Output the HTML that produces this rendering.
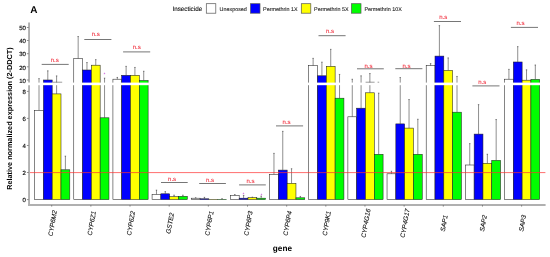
<!DOCTYPE html>
<html lang="en"><head><meta charset="utf-8"><title>Figure A</title>
<style>html,body{margin:0;padding:0;background:#fff}body{width:550px;height:257px;overflow:hidden}svg{display:block;filter:blur(0.3px)}text{font-family:"Liberation Sans",Arial,sans-serif;text-rendering:geometricPrecision}</style></head><body>
<svg width="550" height="257" viewBox="0 0 550 257">
<rect width="550" height="257" fill="#fff"/>
<g stroke="#222" stroke-width="0.55">
<rect x="34.60" y="110.40" width="8.8" height="89.20" fill="#ffffff"/>
<rect x="43.40" y="80.00" width="8.8" height="119.60" fill="#0000ff"/>
<rect x="52.20" y="93.90" width="8.8" height="105.70" fill="#ffff00"/>
<rect x="61.00" y="169.80" width="8.8" height="29.80" fill="#00ff00"/>
<rect x="73.76" y="58.50" width="8.8" height="141.10" fill="#ffffff"/>
<rect x="82.56" y="70.00" width="8.8" height="129.60" fill="#0000ff"/>
<rect x="91.36" y="65.20" width="8.8" height="134.40" fill="#ffff00"/>
<rect x="100.16" y="117.80" width="8.8" height="81.80" fill="#00ff00"/>
<rect x="112.92" y="79.20" width="8.8" height="120.40" fill="#ffffff"/>
<rect x="121.72" y="75.30" width="8.8" height="124.30" fill="#0000ff"/>
<rect x="130.52" y="75.30" width="8.8" height="124.30" fill="#ffff00"/>
<rect x="139.32" y="80.50" width="8.8" height="119.10" fill="#00ff00"/>
<rect x="152.08" y="194.40" width="8.8" height="5.20" fill="#ffffff"/>
<rect x="160.88" y="193.80" width="8.8" height="5.80" fill="#0000ff"/>
<rect x="169.68" y="196.70" width="8.8" height="2.90" fill="#ffff00"/>
<rect x="178.48" y="196.30" width="8.8" height="3.30" fill="#00ff00"/>
<rect x="191.24" y="198.20" width="8.8" height="1.40" fill="#ffffff"/>
<rect x="200.04" y="198.80" width="8.8" height="0.80" fill="#0000ff"/>
<rect x="208.84" y="199.30" width="8.8" height="0.30" fill="#ffff00"/>
<rect x="217.64" y="199.30" width="8.8" height="0.30" fill="#00ff00"/>
<rect x="230.40" y="195.30" width="8.8" height="4.30" fill="#ffffff"/>
<rect x="239.20" y="198.20" width="8.8" height="1.40" fill="#0000ff"/>
<rect x="248.00" y="197.60" width="8.8" height="2.00" fill="#ffff00"/>
<rect x="256.80" y="198.20" width="8.8" height="1.40" fill="#00ff00"/>
<rect x="269.56" y="174.30" width="8.8" height="25.30" fill="#ffffff"/>
<rect x="278.36" y="170.10" width="8.8" height="29.50" fill="#0000ff"/>
<rect x="287.16" y="183.30" width="8.8" height="16.30" fill="#ffff00"/>
<rect x="295.96" y="197.80" width="8.8" height="1.80" fill="#00ff00"/>
<rect x="308.72" y="65.70" width="8.8" height="133.90" fill="#ffffff"/>
<rect x="317.52" y="75.80" width="8.8" height="123.80" fill="#0000ff"/>
<rect x="326.32" y="66.30" width="8.8" height="133.30" fill="#ffff00"/>
<rect x="335.12" y="98.20" width="8.8" height="101.40" fill="#00ff00"/>
<rect x="347.88" y="116.80" width="8.8" height="82.80" fill="#ffffff"/>
<rect x="356.68" y="108.20" width="8.8" height="91.40" fill="#0000ff"/>
<rect x="365.48" y="92.80" width="8.8" height="106.80" fill="#ffff00"/>
<rect x="374.28" y="154.30" width="8.8" height="45.30" fill="#00ff00"/>
<rect x="387.04" y="173.80" width="8.8" height="25.80" fill="#ffffff"/>
<rect x="395.84" y="123.90" width="8.8" height="75.70" fill="#0000ff"/>
<rect x="404.64" y="128.10" width="8.8" height="71.50" fill="#ffff00"/>
<rect x="413.44" y="154.30" width="8.8" height="45.30" fill="#00ff00"/>
<rect x="426.20" y="65.60" width="8.8" height="134.00" fill="#ffffff"/>
<rect x="435.00" y="56.10" width="8.8" height="143.50" fill="#0000ff"/>
<rect x="443.80" y="70.40" width="8.8" height="129.20" fill="#ffff00"/>
<rect x="452.60" y="112.20" width="8.8" height="87.40" fill="#00ff00"/>
<rect x="465.36" y="165.00" width="8.8" height="34.60" fill="#ffffff"/>
<rect x="474.16" y="134.10" width="8.8" height="65.50" fill="#0000ff"/>
<rect x="482.96" y="163.30" width="8.8" height="36.30" fill="#ffff00"/>
<rect x="491.76" y="160.40" width="8.8" height="39.20" fill="#00ff00"/>
<rect x="504.52" y="79.20" width="8.8" height="120.40" fill="#ffffff"/>
<rect x="513.32" y="62.00" width="8.8" height="137.60" fill="#0000ff"/>
<rect x="522.12" y="80.20" width="8.8" height="119.40" fill="#ffff00"/>
<rect x="530.92" y="79.40" width="8.8" height="120.20" fill="#00ff00"/>
</g>
<g stroke="#484848" stroke-width="0.62" fill="none">
<path d="M39.00 110.40V78.50M38.30 78.65h1.4"/>
<path d="M47.80 80.00V70.70M47.10 70.85h1.4"/>
<path d="M56.60 93.90V75.80M55.90 75.95h1.4"/>
<path d="M65.40 169.80V156.00M64.70 156.15h1.4"/>
<path d="M78.16 58.50V36.40M77.46 36.55h1.4"/>
<path d="M86.96 70.00V62.40M86.26 62.55h1.4"/>
<path d="M95.76 65.20V59.50M95.06 59.65h1.4"/>
<path d="M104.56 117.80V78.00M103.86 78.15h1.4"/>
<path d="M117.32 79.20V77.30M116.62 77.45h1.4"/>
<path d="M126.12 75.30V66.20M125.42 66.35h1.4"/>
<path d="M134.92 75.30V67.30M134.22 67.45h1.4"/>
<path d="M143.72 80.50V71.10M143.02 71.25h1.4"/>
<path d="M156.48 194.40V190.00M155.78 190.15h1.4"/>
<path d="M165.28 193.80V191.50M164.58 191.65h1.4"/>
<path d="M174.08 196.70V195.00M173.38 195.15h1.4"/>
<path d="M182.88 196.30V195.00M182.18 195.15h1.4"/>
<path d="M195.64 198.20V197.60M194.94 197.75h1.4"/>
<path d="M204.44 198.80V197.20M203.74 197.35h1.4"/>
<path d="M222.04 199.30V198.50M221.34 198.65h1.4"/>
<path d="M234.80 195.30V194.40M234.10 194.55h1.4"/>
<path d="M243.60 198.20V195.30M242.90 195.45h1.4"/>
<path d="M252.40 197.60V197.00M251.70 197.15h1.4"/>
<path d="M261.20 198.20V196.00M260.50 196.15h1.4"/>
<path d="M273.96 174.30V153.20M273.26 153.35h1.4"/>
<path d="M282.76 170.10V131.20M282.06 131.35h1.4"/>
<path d="M291.56 183.30V168.60M290.86 168.75h1.4"/>
<path d="M300.36 197.80V196.30M299.66 196.45h1.4"/>
<path d="M313.12 65.70V58.20M312.42 58.35h1.4"/>
<path d="M321.92 75.80V62.00M321.22 62.15h1.4"/>
<path d="M330.72 66.30V49.20M330.02 49.35h1.4"/>
<path d="M339.52 98.20V74.30M338.82 74.45h1.4"/>
<path d="M352.28 116.80V79.10M351.58 79.25h1.4"/>
<path d="M361.08 108.20V75.70M360.38 75.85h1.4"/>
<path d="M369.88 92.80V73.40M369.18 73.55h1.4"/>
<path d="M378.68 154.30V93.00M377.98 93.15h1.4"/>
<path d="M391.44 173.80V171.10M390.74 171.25h1.4"/>
<path d="M400.24 123.90V77.40M399.54 77.55h1.4"/>
<path d="M409.04 128.10V99.40M408.34 99.55h1.4"/>
<path d="M417.84 154.30V119.10M417.14 119.25h1.4"/>
<path d="M430.60 65.60V63.50M429.90 63.65h1.4"/>
<path d="M439.40 56.10V25.50M438.70 25.65h1.4"/>
<path d="M448.20 70.40V57.80M447.50 57.95h1.4"/>
<path d="M457.00 112.20V76.30M456.30 76.45h1.4"/>
<path d="M469.76 165.00V143.50M469.06 143.65h1.4"/>
<path d="M478.56 134.10V104.50M477.86 104.65h1.4"/>
<path d="M487.36 163.30V154.10M486.66 154.25h1.4"/>
<path d="M496.16 160.40V119.40M495.46 119.55h1.4"/>
<path d="M508.92 79.20V69.20M508.22 69.35h1.4"/>
<path d="M517.72 62.00V46.50M517.02 46.65h1.4"/>
<path d="M526.52 80.20V69.70M525.82 69.85h1.4"/>
<path d="M535.32 79.40V64.90M534.62 65.05h1.4"/>
</g>
<g stroke="#333" stroke-width="0.7"><path d="M53 82.3H62.2M365.6 82.3H374.6M377.6 82.3h1.6"/></g>
<path d="M28 172.6H545.4" stroke="#ff3030" stroke-width="0.7"/>
<rect x="26" y="82.6" width="522" height="2.6" fill="#fff"/>
<g stroke="#b0b0b0" stroke-width="1.9" fill="none"><path d="M29.05 22.4V82.4M29.05 85.3V205.9"/><path d="M28.1 205H545.6"/></g>
<g stroke="#444" stroke-width="0.6">
<path d="M26.9 27.5H28.6"/>
<path d="M26.9 40.5H28.6"/>
<path d="M26.9 53.7H28.6"/>
<path d="M26.9 66.8H28.6"/>
<path d="M26.9 80H28.6"/>
<path d="M26.9 91.4H28.6"/>
<path d="M26.9 118.4H28.6"/>
<path d="M26.9 145.5H28.6"/>
<path d="M26.9 172.5H28.6"/>
<path d="M26.9 199.6H28.6"/>
<path d="M51.70 205.2V206.6"/>
<path d="M90.86 205.2V206.6"/>
<path d="M130.02 205.2V206.6"/>
<path d="M169.18 205.2V206.6"/>
<path d="M208.34 205.2V206.6"/>
<path d="M247.50 205.2V206.6"/>
<path d="M286.66 205.2V206.6"/>
<path d="M325.82 205.2V206.6"/>
<path d="M364.98 205.2V206.6"/>
<path d="M404.14 205.2V206.6"/>
<path d="M443.30 205.2V206.6"/>
<path d="M482.46 205.2V206.6"/>
<path d="M521.62 205.2V206.6"/>
</g>
<g font-size="6" fill="#111" stroke="#111" stroke-width="0.18" text-anchor="end">
<text x="25.9" y="30.2">50</text>
<text x="25.9" y="43.2">40</text>
<text x="25.9" y="56.4">30</text>
<text x="25.9" y="69.5">20</text>
<text x="25.9" y="82.9">10</text>
<text x="25.9" y="94.1">8</text>
<text x="25.9" y="121.1">6</text>
<text x="25.9" y="148.2">4</text>
<text x="25.9" y="175.2">2</text>
<text x="25.9" y="202.3">0</text>
</g>
<g stroke="#666" stroke-width="0.9">
<path d="M41.7 64.4H68.7"/>
<path d="M84.3 39.5H111.4"/>
<path d="M123.1 51.9H150.2"/>
<path d="M161 182.5H187.7"/>
<path d="M199.2 183.5H225.9"/>
<path d="M239.1 184.9H265.8"/>
<path d="M276 125.9H303.1"/>
<path d="M318.5 35.7H345.6"/>
<path d="M357 68.8H383.8"/>
<path d="M395.3 68.7H422.4"/>
<path d="M433.9 21.5H461"/>
<path d="M472.4 85.9H499.5"/>
<path d="M510.9 27.4H538"/>
</g>
<g font-size="6" fill="#f23a48" stroke="#f23a48" stroke-width="0.12" text-anchor="middle">
<text x="54.7" y="61.9">n.s</text>
<text x="95.8" y="36.4">n.s</text>
<text x="136.8" y="49.1">n.s</text>
<text x="172.1" y="181.0">n.s</text>
<text x="209.9" y="182.0">n.s</text>
<text x="250.4" y="182.9">n.s</text>
<text x="286.6" y="124.4">n.s</text>
<text x="330.0" y="33.4">n.s</text>
<text x="368.5" y="67.6">n.s</text>
<text x="406.4" y="67.6">n.s</text>
<text x="443.3" y="19.1">n.s</text>
<text x="482.3" y="83.8">n.s</text>
<text x="520.5" y="24.9">n.s</text>
</g>
<g font-size="5" fill="#c040d0" text-anchor="middle"><text x="104.6" y="76.3">*</text><text x="243.5" y="196.3">*</text><text x="261.4" y="196.6">*</text></g>
<g font-size="6.5" font-style="italic" fill="#111" stroke="#111" stroke-width="0.12" text-anchor="middle">
<text transform="translate(54.70 223.6) rotate(-80)">CYP6M2</text>
<text transform="translate(93.86 223.6) rotate(-80)">CYP6Z1</text>
<text transform="translate(133.02 223.6) rotate(-80)">CYP6Z2</text>
<text transform="translate(172.18 223.6) rotate(-80)">GSTE2</text>
<text transform="translate(211.34 223.6) rotate(-80)">CYP6P1</text>
<text transform="translate(250.50 223.6) rotate(-80)">CYP6P3</text>
<text transform="translate(289.66 223.6) rotate(-80)">CYP6P4</text>
<text transform="translate(328.82 223.6) rotate(-80)">CYP9K1</text>
<text transform="translate(367.98 223.6) rotate(-80)">CYP4G16</text>
<text transform="translate(407.14 223.6) rotate(-80)">CYP4G17</text>
<text transform="translate(446.30 223.6) rotate(-80)">SAP1</text>
<text transform="translate(485.46 223.6) rotate(-80)">SAP2</text>
<text transform="translate(524.62 223.6) rotate(-80)">SAP3</text>
</g>
<text x="30.3" y="12.6" font-size="10" font-weight="bold" fill="#000">A</text>
<text transform="translate(12 189.8) rotate(-90)" font-size="7.29" font-weight="bold" fill="#000">Relative normalized expression (2-DDCT)</text>
<text x="282.4" y="251.2" font-size="8.2" font-weight="bold" fill="#000" text-anchor="middle">gene</text>
<text x="172.4" y="11" font-size="6.3" fill="#111" stroke="#111" stroke-width="0.12">Insecticide</text>
<rect x="206.3" y="3.7" width="9.5" height="9.5" fill="#fff" stroke="#555" stroke-width="0.7"/>
<text x="219.6" y="10.5" font-size="5.4" fill="#222" stroke="#222" stroke-width="0.1">Unexposed</text>
<rect x="250.5" y="3.7" width="9.5" height="9.5" fill="#0000ff" stroke="#555" stroke-width="0.7"/>
<text x="263.1" y="10.5" font-size="5.4" fill="#222" stroke="#222" stroke-width="0.1">Permethrin 1X</text>
<rect x="301.3" y="3.7" width="9.5" height="9.5" fill="#ffff00" stroke="#555" stroke-width="0.7"/>
<text x="314.1" y="10.5" font-size="5.4" fill="#222" stroke="#222" stroke-width="0.1">Permethrin 5X</text>
<rect x="351.5" y="3.7" width="9.5" height="9.5" fill="#00ff00" stroke="#555" stroke-width="0.7"/>
<text x="364.4" y="10.5" font-size="5.4" fill="#222" stroke="#222" stroke-width="0.1">Permethrin 10X</text>
</svg></body></html>
